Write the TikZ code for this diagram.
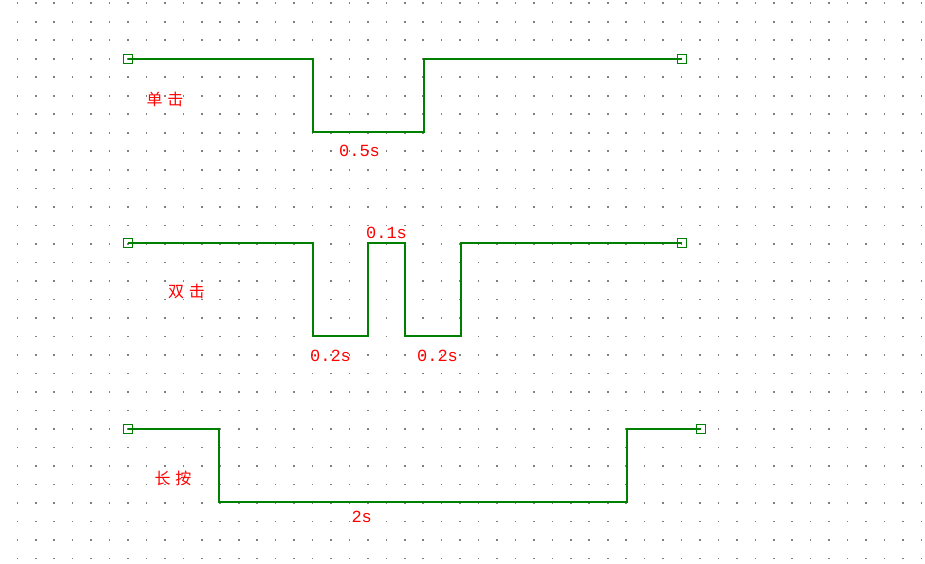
\documentclass[tikz,border=0pt]{standalone}
\usepackage{fontspec}
\setmonofont{Liberation Mono}
\newfontfamily\cjk{Noto Sans CJK SC}
\definecolor{wavegreen}{RGB}{0,128,0}
\definecolor{dotgray}{RGB}{128,128,128}
\tikzset{
  wave/.style={draw=wavegreen, line width=2.2pt, line join=miter},
  endsq/.style={draw=wavegreen, line width=1pt, fill=none, minimum size=9pt, inner sep=0pt, shape=rectangle},
  lbl/.style={text=red, font=\ttfamily\fontsize{17}{17}\selectfont, inner sep=0pt},
  cn/.style={text=red, font=\cjk\fontsize{16}{16}\selectfont, inner sep=0pt},
}
\begin{document}
\begin{tikzpicture}[x=1pt,y=-1pt]
\useasboundingbox (0,0) rectangle (925,564);
\fill[white] (0,0) rectangle (925,564);
% dotted grid
\foreach \i in {0,...,49}{
  \foreach \j in {0,...,30}{
    \fill[dotgray] ({17.3+18.45*\i-0.8},{3.3+18.5*\j-0.8}) rectangle ++(1.6,1.6);
  }
}
% waveform 1
\coordinate (a0) at (128,59);
\coordinate (a1) at (682,59);
\draw[wave] (a0) -- (313,59) -- (313,132) -- (424,132) -- (424,59) -- (a1);
\node[endsq] (sa0) at (a0) {};
\node[endsq] (sa1) at (a1) {};
\node[cn] (t1) at (165,99) {单\kern5pt 击};
\node[lbl] (l1) at (359.5,151) {0.5s};
% waveform 2
\coordinate (b0) at (128,243);
\coordinate (b1) at (682,243);
\draw[wave] (b0) -- (313,243) -- (313,336) -- (368,336) -- (368,243) -- (405,243) -- (405,336) -- (461,336) -- (461,243) -- (b1);
\node[endsq] (sb0) at (b0) {};
\node[endsq] (sb1) at (b1) {};
\node[cn] (t2) at (186.5,291) {双\kern5pt 击};
\node[lbl] (l2) at (386.5,233) {0.1s};
\node[lbl] (l3) at (330.5,356) {0.2s};
\node[lbl] (l4) at (437.5,356) {0.2s};
% waveform 3
\coordinate (c0) at (128,429);
\coordinate (c1) at (701,429);
\draw[wave] (c0) -- (219,429) -- (219,502) -- (627,502) -- (627,429) -- (c1);
\node[endsq] (sc0) at (c0) {};
\node[endsq] (sc1) at (c1) {};
\node[cn] (t3) at (173,478) {长\kern5pt 按};
\node[lbl] (l5) at (361.7,516.5) {2s};
\end{tikzpicture}
\end{document}
